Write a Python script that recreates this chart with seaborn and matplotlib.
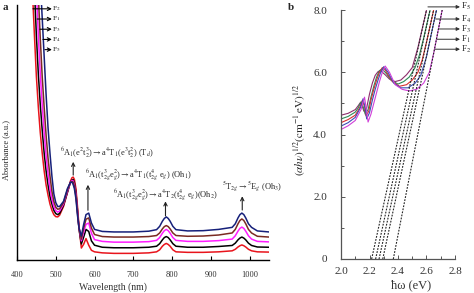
import matplotlib
matplotlib.use("Agg")
import matplotlib.pyplot as plt
import seaborn as sns
import pandas as pd
import numpy as np

# ---------------- data: panel a (absorbance, a.u.) ----------------
wavelength = [430, 440, 445, 450, 455, 460, 465, 470, 475, 480, 485, 490, 495, 500, 505, 510,
              520, 530, 538, 542, 545, 548, 552, 556, 560, 566, 572, 578, 585, 592, 600,
              620, 650, 700, 740, 760, 768, 775, 780, 785, 790, 795, 802, 810,
              840, 880, 920, 955, 963, 970, 975, 980, 985, 990, 997, 1005, 1020, 1050]
abs_F2 = [140, 105, 88, 72, 60, 50, 42, 35, 29.5, 25.5, 22, 19.5, 17.8, 17.0, 16.9, 17.6,
          21, 26.5, 31, 32.3, 32.5, 31.6, 28, 21, 13, 4.7, 6.2, 8.4, 5.8, 3.8, 3.2,
          2.8, 2.6, 2.6, 2.8, 3.2, 4.0, 5.4, 6.1, 6.5, 6.1, 5.4, 4.0, 3.2,
          3.0, 3.0, 3.2, 3.6, 4.2, 5.1, 5.6, 5.9, 5.6, 5.1, 4.2, 3.6, 3.2, 3.1]
abs_F1 = [160, 125, 106, 88, 73, 61, 51, 42, 35, 29.5, 25, 22, 19.5, 18.2, 17.8, 18.3,
          21.5, 26.5, 30.5, 31.4, 31.5, 30.3, 26.5, 19.5, 12, 6.3, 9, 12, 11.2, 7.5, 5.8,
          5.0, 4.8, 4.8, 5.0, 5.4, 6.4, 7.9, 8.8, 9.2, 8.8, 7.9, 6.4, 5.4,
          5.0, 5.0, 5.3, 5.7, 6.6, 7.9, 8.6, 9.0, 8.6, 7.9, 6.6, 5.7, 5.1, 5.0]
abs_F3 = [170, 145, 125, 106, 88, 73, 61, 50, 41, 34, 28, 24, 21, 19.4, 18.8, 19.2,
          22, 27, 30.5, 31.2, 31, 29.5, 25.8, 19, 12.5, 7.5, 11, 14, 14.5, 10.5, 8.0,
          7.3, 7.0, 7.0, 7.2, 7.7, 8.8, 10.5, 11.5, 12.0, 11.5, 10.5, 8.8, 7.7,
          7.3, 7.3, 7.6, 8.2, 9.5, 11.3, 12.4, 12.9, 12.4, 11.3, 9.5, 8.2, 7.3, 7.1]
abs_F4 = [180, 160, 140, 122, 104, 87, 72, 60, 49, 40, 33, 27, 23, 20.7, 19.9, 20.1,
          22.5, 27.5, 30.5, 30.8, 30.5, 29, 25, 18.5, 12.5, 8.2, 12.5, 16, 16.5, 12.5, 10,
          9.2, 9.0, 9.0, 9.2, 9.6, 10.6, 12.2, 13.1, 13.5, 13.1, 12.2, 10.6, 9.6,
          9.3, 9.4, 9.8, 10.6, 12.0, 14.2, 15.5, 16.1, 15.5, 14.2, 12.0, 10.6, 9.3, 9.0]
abs_F5 = [200, 175, 160, 145, 130, 110, 95, 80, 65, 52, 42, 33, 26, 22.5, 21, 21,
          23, 28, 30.5, 30.5, 29.5, 28, 24, 17.5, 12.5, 9.4, 14, 17.8, 18.4, 14.5, 12,
          11.2, 11, 11, 11.3, 11.9, 13.2, 15.2, 16.3, 16.9, 16.3, 15.2, 13.2, 11.9,
          11.4, 11.5, 12.0, 12.8, 14.2, 16.5, 17.8, 18.4, 17.8, 16.5, 14.2, 12.8, 11.4, 11.0]
wl_ticks = [400, 500, 600, 700, 800, 900, 1000]

# ---------------- data: panel b (Tauc plot) ----------------
F5_E = [2.00, 2.05, 2.10, 2.12, 2.135, 2.15, 2.16, 2.18, 2.20, 2.22, 2.24, 2.26, 2.275, 2.29,
        2.31, 2.34, 2.38, 2.42, 2.46, 2.50, 2.54, 2.57, 2.60, 2.62]
F5_v = [4.62, 4.68, 4.80, 4.92, 5.02, 4.90, 4.75, 4.85, 5.30, 5.65, 5.90, 6.02, 6.05, 6.0,
        5.92, 5.78, 5.70, 5.75, 5.92, 6.15, 6.80, 7.40, 8.0, 8.4]
F4_E = [2.00, 2.05, 2.10, 2.12, 2.14, 2.155, 2.17, 2.19, 2.21, 2.23, 2.25, 2.27, 2.285, 2.30,
        2.32, 2.35, 2.40, 2.44, 2.48, 2.52, 2.55, 2.58, 2.625, 2.65]
F4_v = [4.50, 4.58, 4.72, 4.85, 5.05, 4.90, 4.65, 4.80, 5.20, 5.55, 5.85, 6.05, 6.10, 6.05,
        5.95, 5.75, 5.62, 5.70, 5.85, 6.15, 6.55, 7.10, 8.0, 8.5]
F3_E = [2.00, 2.05, 2.10, 2.13, 2.15, 2.165, 2.175, 2.195, 2.21, 2.23, 2.25, 2.27, 2.29, 2.31,
        2.32, 2.36, 2.41, 2.46, 2.50, 2.54, 2.57, 2.60, 2.65, 2.68]
F3_v = [4.38, 4.48, 4.62, 4.85, 5.10, 4.90, 4.60, 4.75, 5.10, 5.45, 5.75, 6.00, 6.15, 6.08,
        6.00, 5.70, 5.55, 5.60, 5.75, 6.00, 6.40, 6.97, 8.0, 8.6]
F1_E = [2.00, 2.05, 2.10, 2.135, 2.155, 2.17, 2.18, 2.20, 2.22, 2.24, 2.26, 2.28, 2.30, 2.33,
        2.37, 2.42, 2.47, 2.52, 2.56, 2.60, 2.63, 2.67, 2.70]
F1_v = [4.27, 4.38, 4.55, 4.85, 5.15, 4.85, 4.50, 4.70, 5.10, 5.45, 5.75, 6.02, 6.18, 6.00,
        5.65, 5.50, 5.50, 5.65, 5.90, 6.50, 7.15, 8.0, 8.6]
F2_E = [2.00, 2.05, 2.10, 2.14, 2.165, 2.18, 2.19, 2.21, 2.23, 2.25, 2.27, 2.29, 2.31, 2.34,
        2.38, 2.43, 2.48, 2.53, 2.58, 2.62, 2.65, 2.68, 2.71, 2.73]
F2_v = [4.16, 4.28, 4.45, 4.80, 5.20, 4.75, 4.40, 4.65, 5.00, 5.35, 5.70, 6.00, 6.20, 6.00,
        5.60, 5.45, 5.40, 5.45, 5.65, 6.00, 6.60, 7.30, 8.0, 8.5]
# Tauc extrapolation lines: intercept on energy axis and energy at value 8.0
tauc_samples = ["F5", "F4", "F3", "F1", "F2"]
tauc_E0 = [2.215, 2.243, 2.267, 2.293, 2.367]
tauc_E8 = [2.60, 2.625, 2.65, 2.67, 2.71]
b_xticks = [2.0, 2.2, 2.4, 2.6, 2.8]
b_yticks = [0, 2.0, 4.0, 6.0, 8.0]

# ---------------- styling ----------------
sns.set_theme(style="ticks")
plt.rcParams["font.family"] = ["Liberation Serif", "DejaVu Serif"]
plt.rcParams["mathtext.fontset"] = "stix"

colors_a = {"F2": "#e8141c", "F1": "#000000", "F3": "#ff1cff", "F4": "#7a2a22", "F5": "#16207a"}
colors_b = {"F5": "#8e2c6c", "F4": "#2e8b57", "F3": "#d62f2f", "F1": "#3b4fb5", "F2": "#d03fd8"}

fig = plt.figure(figsize=(4.74, 2.93), dpi=100)
W, H = 474, 293
axa = fig.add_axes([17 / W, 33 / H, 252 / W, 255 / H])
axb = fig.add_axes([341 / W, 34 / H, 114 / W, 249 / H])

# ---------------- panel a ----------------
series_a = {"F2": abs_F2, "F1": abs_F1, "F3": abs_F3, "F4": abs_F4, "F5": abs_F5}
df_a = pd.concat([pd.DataFrame({"wl": wavelength, "A": v, "s": k}) for k, v in series_a.items()])
sns.lineplot(data=df_a, x="wl", y="A", hue="s", palette=colors_a, estimator=None,
             legend=False, lw=1.1, ax=axa)
axa.set_xlim(400, 1050)
axa.set_ylim(0, 100)
axa.set_xticks(wl_ticks)
axa.set_yticks([])
axa.set_xlabel("")
axa.set_ylabel("")
for sp in ["top", "right"]:
    axa.spines[sp].set_visible(False)
for sp in ["left", "bottom"]:
    axa.spines[sp].set_color("black")
    axa.spines[sp].set_linewidth(1.0)
axa.tick_params(axis="x", direction="in", length=3, width=0.8, labelsize=6, pad=8, colors="black")
for lab in axa.get_xticklabels():
    lab.set_color("#333333")

fig.text(6 / W, 1 - 150 / H, "Absorbance (a.u.)", rotation=90, ha="center", va="center", fontsize=6)
fig.text(113 / W, 1 - 287 / H, "Wavelength (nm)", ha="center", va="center", fontsize=7, color="#333333")
fig.text(3 / W, 1 - 7 / H, "a", ha="left", va="center", fontsize=8, fontweight="bold")
fig.text(288 / W, 1 - 7 / H, "b", ha="left", va="center", fontsize=8, fontweight="bold")

# sample labels with arrows (panel a)
a_lab = [("F$_2$", 441, 98.5), ("F$_1$", 452, 94.5), ("F$_3$", 459, 90.5),
         ("F$_4$", 467, 86.5), ("F$_5$", 472, 82.5)]
for txt, x0, y0 in a_lab:
    axa.annotate("", xy=(490, y0), xytext=(x0, y0),
                 arrowprops=dict(arrowstyle="->", lw=0.8, color="black", shrinkA=0, shrinkB=0,
                                 mutation_scale=6))
    axa.text(491, y0, txt, ha="left", va="center", fontsize=5.3)

trans = [
    (r"$^6$A$_1$(e$^2$t$^3_2$)$\rightarrow$a$^4$T$_1$(e$^3$t$^2_2$) (T$_d$)", 511, 42.0, 545, 33.3, 38.5),
    (r"$^6$A$_1$(t$^3_{2g}$e$^2_g$)$\rightarrow$a$^4$T$_1$(t$^4_{2g}$ e$_g$) (Oh$_1$)", 576, 33.0, 583, 19.5, 29.5),
    (r"$^6$A$_1$(t$^3_{2g}$e$^2_g$)$\rightarrow$a$^4$T$_2$(t$^4_{2g}$ e$_g$)(Oh$_2$)", 648, 25.5, 783, 17.3, 23.0),
    (r"$^5$T$_{2g}$$\rightarrow$$^5$E$_g$ (Oh$_3$)", 930, 29.0, 981, 19.6, 25.0),
]
for txt, tx, ty, ax_, y0, y1 in trans:
    axa.text(tx, ty, txt, ha="left", va="center", fontsize=6)
    axa.annotate("", xy=(ax_, y1), xytext=(ax_, y0),
                 arrowprops=dict(arrowstyle="->", lw=0.8, color="#222222", shrinkA=0, shrinkB=0,
                                 mutation_scale=6))

# ---------------- panel b ----------------
series_b = {"F5": (F5_E, F5_v), "F4": (F4_E, F4_v), "F3": (F3_E, F3_v),
            "F1": (F1_E, F1_v), "F2": (F2_E, F2_v)}
df_b = pd.concat([pd.DataFrame({"E": e, "v": v, "s": k}) for k, (e, v) in series_b.items()])
sns.lineplot(data=df_b, x="E", y="v", hue="s", palette=colors_b, estimator=None,
             legend=False, lw=0.8, ax=axb)
df_t = pd.concat([pd.DataFrame({"E": [e0, e8], "v": [0.0, 8.0], "s": s})
                  for s, e0, e8 in zip(tauc_samples, tauc_E0, tauc_E8)])
sns.lineplot(data=df_t, x="E", y="v", units="s", estimator=None, color="#222222",
             lw=0.8, ls=(0, (1.6, 1.2)), legend=False, ax=axb)
axb.set_xlim(2.0, 2.8)
axb.set_ylim(0, 8.0)
axb.set_xticks(b_xticks)
axb.set_xticks(np.arange(2.0, 2.81, 0.1), minor=True)
axb.set_yticks(b_yticks)
axb.set_yticks([1, 3, 5, 7], minor=True)
axb.set_xticklabels([f"{t:.1f}" for t in b_xticks])
axb.set_yticklabels(["0" if t == 0 else f"{t:.1f}" for t in b_yticks])
axb.set_xlabel("")
axb.set_ylabel("")
for sp in ["top", "right"]:
    axb.spines[sp].set_visible(False)
for sp in ["left", "bottom"]:
    axb.spines[sp].set_color("#555555")
    axb.spines[sp].set_linewidth(0.9)
axb.tick_params(which="both", direction="in", width=0.7, colors="#555555", labelsize=8,
                labelcolor="#333333")
axb.tick_params(which="major", length=3)
axb.tick_params(which="minor", length=2)
axb.tick_params(axis="y", pad=10)
axb.tick_params(axis="x", pad=6)

fig.text(300 / W, 1 - 130 / H, r"$(\alpha h\nu)^{1/2}(\mathrm{cm}^{-1}\,\mathrm{eV})^{1/2}$",
         rotation=90, ha="center", va="center", fontsize=8)
fig.text(411 / W, 1 - 285 / H, "ħω (eV)", ha="center", va="center", fontsize=9, color="#333333")

b_lab = [("F$_5$", 2.61, 8.10), ("F$_4$", 2.665, 7.71), ("F$_3$", 2.69, 7.39),
         ("F$_1$", 2.675, 7.06), ("F$_2$", 2.66, 6.74)]
for txt, x0, y0 in b_lab:
    axb.annotate("", xy=(2.835, y0), xytext=(x0, y0), annotation_clip=False,
                 arrowprops=dict(arrowstyle="-|>", lw=0.7, color="#333333", shrinkA=0, shrinkB=0,
                                 mutation_scale=5))
    axb.text(2.84, y0, txt, ha="left", va="center", fontsize=6.5, clip_on=False)

fig.savefig("out.png", dpi=100)
